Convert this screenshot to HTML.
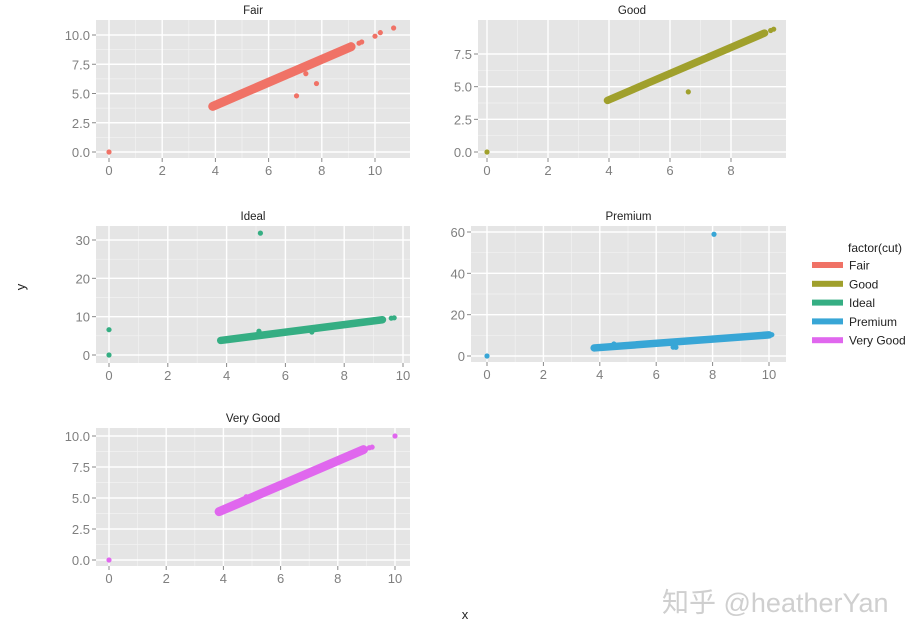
<!DOCTYPE html>
<html><head><meta charset="utf-8"><style>
body{margin:0;background:#fff;width:922px;height:639px;overflow:hidden}
svg text{font-family:"Liberation Sans","Noto Sans CJK SC",sans-serif}
</style></head><body>
<svg id="s" width="922" height="639" xmlns="http://www.w3.org/2000/svg"></svg>
<script>
const s=document.getElementById('s');let h='';
function P(o){
 const {x0,x1,y0,y1,xt,yt,title,col,xs,ys,ylab,pts,band}=o;
 const X=v=>xt[0][1]+(v-xt[0][0])*(xt[1][1]-xt[0][1])/(xt[1][0]-xt[0][0]);
 const Y=v=>yt[0][1]+(v-yt[0][0])*(yt[1][1]-yt[0][1])/(yt[1][0]-yt[0][0]);
 h+=`<rect x="${x0}" y="${y0}" width="${x1-x0}" height="${y1-y0}" fill="#e5e5e5"/>`;
 for(let i=0;i<xs.length-1;i++){const m=(X(xs[i])+X(xs[i+1]))/2;h+=`<line x1="${m}" x2="${m}" y1="${y0}" y2="${y1}" stroke="#f2f2f2" stroke-width="0.7"/>`;}
 for(let i=0;i<ys.length-1;i++){const m=(Y(ys[i])+Y(ys[i+1]))/2;h+=`<line y1="${m}" y2="${m}" x1="${x0}" x2="${x1}" stroke="#f2f2f2" stroke-width="0.7"/>`;}
 xs.forEach(v=>{const x=X(v);h+=`<line x1="${x}" x2="${x}" y1="${y0}" y2="${y1}" stroke="#fff" stroke-width="1.4"/><line x1="${x}" x2="${x}" y1="${y1}" y2="${y1+4}" stroke="#888"/><text x="${x}" y="${y1+17}" font-size="13" fill="#7f7f7f" text-anchor="middle">${v}</text>`;});
 ys.forEach((v,i)=>{const y=Y(v);h+=`<line y1="${y}" y2="${y}" x1="${x0}" x2="${x1}" stroke="#fff" stroke-width="1.4"/><line y1="${y}" y2="${y}" x1="${x0-4}" x2="${x0}" stroke="#888"/><text x="${x0-6}" y="${y+5}" font-size="13" fill="#7f7f7f" text-anchor="end">${ylab[i]}</text>`;});
 h+=`<text x="${(x0+x1)/2}" y="${y0-6}" font-size="11.5" fill="#222" text-anchor="middle">${title}</text>`;
 h+=`<line x1="${X(band[0])}" y1="${Y(band[1])}" x2="${X(band[2])}" y2="${Y(band[3])}" stroke="${col}" stroke-width="${band[4]}" stroke-linecap="round"/>`;
 pts.forEach(p=>{h+=`<circle cx="${X(p[0])}" cy="${Y(p[1])}" r="2.6" fill="${col}"/>`;});
}
P({x0:96,x1:410,y0:20,y1:158,xt:[[0,109],[10,375]],yt:[[0,152],[10,35]],title:"Fair",col:"#f07266",xs:[0,2,4,6,8,10],ys:[0,2.5,5,7.5,10],ylab:["0.0","2.5","5.0","7.5","10.0"],
 band:[3.9,3.9,9.1,9.0,9],pts:[[0,0],[7.05,4.8],[7.8,5.85],[7.4,6.7],[9.5,9.4],[9.4,9.3],[10,9.9],[10.2,10.2],[10.7,10.6],[8.8,8.6],[3.85,3.8]]});
P({x0:478,x1:786,y0:20,y1:158,xt:[[0,487],[8,731]],yt:[[0,152],[7.5,54]],title:"Good",col:"#a0a02c",xs:[0,2,4,6,8],ys:[0,2.5,5,7.5],ylab:["0.0","2.5","5.0","7.5"],
 band:[3.95,3.95,9.1,9.1,7.5],pts:[[0,0],[6.6,4.6],[9.4,9.4],[9.3,9.3]]});
P({x0:96,x1:410,y0:226,y1:363,xt:[[0,109],[10,403]],yt:[[0,355],[30,240]],title:"Ideal",col:"#35ae83",xs:[0,2,4,6,8,10],ys:[0,10,20,30],ylab:["0","10","20","30"],
 band:[3.8,3.8,9.3,9.2,7.5],pts:[[0,0],[0,6.6],[5.15,31.8],[9.6,9.6],[9.7,9.7],[5.1,6.2],[6.9,6]]});
P({x0:471,x1:786,y0:226,y1:362,xt:[[0,487],[10,769]],yt:[[0,356],[60,232]],title:"Premium",col:"#38a6d6",xs:[0,2,4,6,8,10],ys:[0,20,40,60],ylab:["0","20","40","60"],
 band:[3.8,3.9,10.0,10.2,7.5],pts:[[0,0],[8.05,58.9],[4.5,5.8],[6.6,4.3],[6.7,4.2],[10.1,10.3]]});
P({x0:96,x1:410,y0:428,y1:566,xt:[[0,109],[10,395]],yt:[[0,560],[10,436]],title:"Very Good",col:"#e067ee",xs:[0,2,4,6,8,10],ys:[0,2.5,5,7.5,10],ylab:["0.0","2.5","5.0","7.5","10.0"],
 band:[3.85,3.9,8.9,8.9,9],pts:[[0,0],[10,10],[9.2,9.1],[9.1,9.05],[4.8,5.1]]});
h+=`<text x="848" y="252" font-size="12" fill="#222">factor(cut)</text>`;
[["Fair","#f07266"],["Good","#a0a02c"],["Ideal","#35ae83"],["Premium","#38a6d6"],["Very Good","#e067ee"]].forEach((l,i)=>{const y=265+i*18.8;h+=`<rect x="812" y="${y-3}" width="31" height="6" fill="${l[1]}"/><text x="849" y="${y+4.5}" font-size="12" fill="#222">${l[0]}</text>`;});
h+=`<text x="25" y="287" font-size="13" fill="#222" text-anchor="middle" transform="rotate(-90 25 287)">y</text>`;
h+=`<text x="465" y="619" font-size="13" fill="#222" text-anchor="middle">x</text>`;
h+=`<text x="662" y="612" font-size="27" fill="#cfcfcf">知乎 @heatherYan</text>`;
s.innerHTML=h;
</script>
</body></html>
